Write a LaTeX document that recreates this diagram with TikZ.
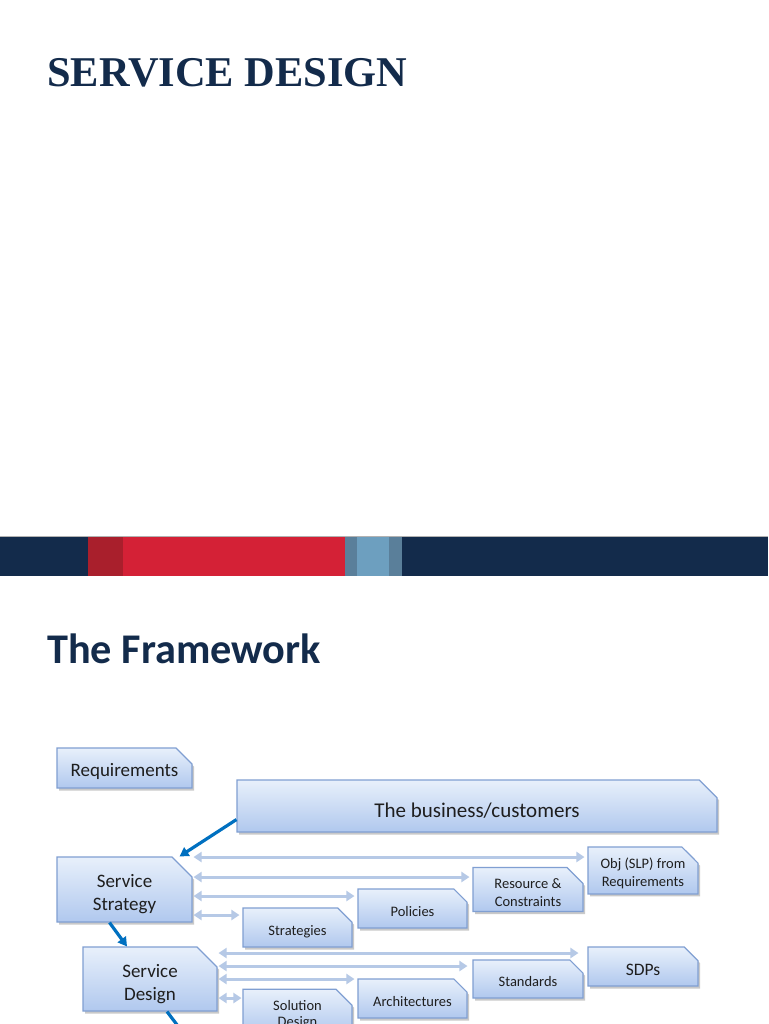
\documentclass[tikz,border=0pt]{standalone}
\usepackage{fontspec}
\setmainfont{Carlito}
\newfontfamily\titleserif{Liberation Serif}
\usetikzlibrary{shapes.misc,shadows,arrows.meta,calc}
\definecolor{navy}{HTML}{132B4B}
\definecolor{darkred}{HTML}{A91F2C}
\definecolor{brightred}{HTML}{D42136}
\definecolor{steel}{HTML}{5A7F9A}
\definecolor{lightsteel}{HTML}{6D9FBF}
\definecolor{boxtop}{HTML}{E8F0FB}
\definecolor{boxbot}{HTML}{B0C8EE}
\definecolor{boxline}{HTML}{809FD2}
\definecolor{darkarrow}{HTML}{0070C0}
\definecolor{lightarrow}{HTML}{B6C9E6}
\definecolor{boxtext}{HTML}{1E1E1E}
\newcommand\lowtxt[2][4pt]{\raisebox{-#1}[\height][\depth]{#2}}
\tikzset{
  snipbox/.style={chamfered rectangle, chamfered rectangle corners=north east,
    chamfered rectangle xsep=#1, chamfered rectangle ysep=#1,
    draw=boxline, line width=1.1pt, top color=boxtop, bottom color=boxbot,
    drop shadow={shadow xshift=2pt, shadow yshift=-2.5pt, opacity=0.35, fill=black!60},
    inner sep=0pt, text=boxtext, align=center},
  snipbox/.default=8pt,
  bigtxt/.style={font=\fontsize{19}{23}\selectfont},
  smalltxt/.style={font=\fontsize{14.5}{18}\selectfont},
  darkconn/.style={draw=darkarrow, line width=3.2pt, -{Triangle[length=9pt,width=10pt]}},
  lightconn/.style={draw=lightarrow, line width=3pt,
    {Triangle[length=8pt,width=10pt]}-{Triangle[length=8pt,width=10pt]},
    shorten <=1pt, shorten >=3pt},
}
\begin{document}
\begin{tikzpicture}[x=1pt,y=-1pt]
\clip (0,0) rectangle (768,1024);
\fill[white] (0,0) rectangle (768,1024);
% title
\node[anchor=base west, inner sep=0pt, text=navy, font=\titleserif\bfseries\fontsize{42.4}{42}\selectfont] (title) at (47,87) {SERVICE DESIGN};
% band
\fill[navy] (0,537) rectangle (768,576);
\fill[darkred] (88,537) rectangle (123,576);
\fill[brightred] (123,537) rectangle (345,576);
\fill[steel] (345,537) rectangle (402,576);
\fill[lightsteel] (357,537) rectangle (389,576);
\draw[gray!60, line width=0.8pt] (0,536.5) -- (768,536.5);
% second title
\node[anchor=base west, inner sep=0pt, text=navy, font=\bfseries\fontsize{42.3}{42}\selectfont] (fw) at (47,663) {The Framework};
% boxes
\node[snipbox, bigtxt, minimum width=135pt, minimum height=40pt] (req) at (124.5,768) {\lowtxt[3.5pt]{Requirements}};
\node[snipbox=10pt, font=\fontsize{21}{25}\selectfont, minimum width=480pt, minimum height=52pt] (bus) at (477,806) {\lowtxt[4.5pt]{The business/customers}};
\node[snipbox=10pt, bigtxt, minimum width=135pt, minimum height=65pt] (ss) at (124.5,889.5) {\lowtxt[5pt]{Service}\\\lowtxt[5pt]{Strategy}};
\node[snipbox, smalltxt, minimum width=110pt, minimum height=39pt] (obj) at (643,870.5) {\lowtxt[3pt]{Obj (SLP) from}\\\lowtxt[3pt]{Requirements}};
\node[snipbox, smalltxt, minimum width=110pt, minimum height=39pt] (res) at (528,889.5) {\lowtxt[3pt]{Resource \&}\\\lowtxt[3pt]{Constraints}};
\node[snipbox, smalltxt, minimum width=109pt, minimum height=39pt] (pol) at (412.5,908.5) {\lowtxt[3pt]{Policies}};
\node[snipbox, smalltxt, minimum width=109pt, minimum height=39pt] (strat) at (297.5,927.5) {\lowtxt[4pt]{Strategies}};
\node[snipbox=10pt, bigtxt, minimum width=134pt, minimum height=64pt] (sd) at (150,979) {\lowtxt[5.5pt]{Service}\\\lowtxt[5.5pt]{Design}};
\node[snipbox, font=\fontsize{17.5}{21}\selectfont, minimum width=110pt, minimum height=39pt] (sdp) at (643,966.5) {\lowtxt[3pt]{SDPs}};
\node[snipbox, smalltxt, minimum width=110pt, minimum height=38pt] (std) at (528,979) {\lowtxt[3pt]{Standards}};
\node[snipbox, smalltxt, minimum width=109pt, minimum height=39pt] (arch) at (412.5,998.5) {\lowtxt[3pt]{Architectures}};
\node[snipbox, font=\fontsize{14.5}{16}\selectfont, minimum width=109pt, minimum height=39pt] (sol) at (297.5,1011.5) {\lowtxt[3pt]{Solution}\\\lowtxt[3pt]{Design}};
\coordinate (out) at (190,1042);
% dark connectors
\draw[darkconn] ([yshift=13pt]bus.south west) -- ([xshift=55pt]ss.north);
\draw[darkconn] ([xshift=-15pt]ss.south) -- ([xshift=-23pt]sd.north);
\draw[darkconn] ([xshift=17pt]sd.south) -- (out);
% light connectors from Service Strategy
\draw[lightconn] ([yshift=32.5pt]ss.east) -- ([yshift=32.5pt]ss.east -| obj.west);
\draw[lightconn] ([yshift=12.5pt]ss.east) -- ([yshift=12.5pt]ss.east -| res.west);
\draw[lightconn] ([yshift=-6.5pt]ss.east) -- ([yshift=-6.5pt]ss.east -| pol.west);
\draw[lightconn] ([yshift=-25.5pt]ss.east) -- ([yshift=-25.5pt]ss.east -| strat.west);
% light connectors from Service Design
\draw[lightconn, shorten >=9pt] ([yshift=26pt]sd.east) -- ([yshift=26pt]sd.east -| sdp.west);
\draw[lightconn, shorten >=5pt] ([yshift=13pt]sd.east) -- ([yshift=13pt]sd.east -| std.west);
\draw[lightconn] ([yshift=0pt]sd.east) -- ([yshift=0pt]sd.east -| arch.west);
\draw[lightconn, shorten >=1pt] ([yshift=-19pt]sd.east) -- ([yshift=-19pt]sd.east -| sol.west);
\end{tikzpicture}
\end{document}
